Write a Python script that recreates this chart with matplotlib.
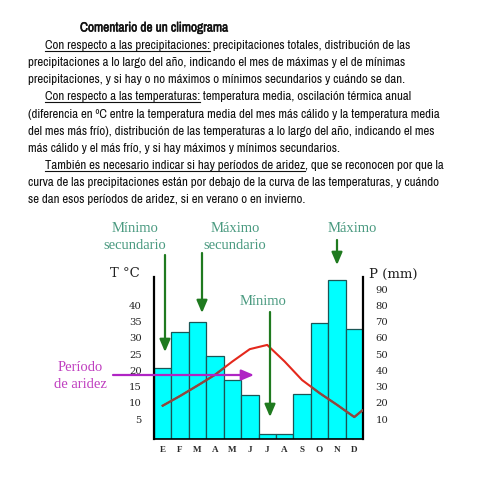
import matplotlib
matplotlib.use('Agg')
import matplotlib.pyplot as plt
from matplotlib import font_manager as fm
from matplotlib import patheffects as pe
from matplotlib.lines import Line2D
from matplotlib.patches import FancyArrowPatch
from matplotlib.path import Path
from matplotlib.transforms import offset_copy

# Datos del climograma
meses = ['E', 'F', 'M', 'A', 'M', 'J', 'J', 'A', 'S', 'O', 'N', 'D']
precipitacion = [41.3, 63.8, 69.9, 48.9, 34.1, 24.5, 0.8, 0.8, 25.4, 68.9, 95.5, 65.3]
temp_x = [0, 1, 2, 3, 4, 5, 6, 7, 8, 9, 10, 11, 11.45]
temperatura = [9.1, 12.1, 15.3, 18.6, 22.7, 26.5, 27.8, 22.7, 17.0, 13.0, 9.4, 5.6, 7.6]
ticks_t = [5, 10, 15, 20, 25, 30, 35, 40]
ticks_p = [10, 20, 30, 40, 50, 60, 70, 80, 90]

titulo = 'Comentario de un climograma'
lineas = [
    (45, [('Con respecto a las precipitaciones:', True),
          (' precipitaciones totales, distribución de las', False)]),
    (28, [('precipitaciones a lo largo del año, indicando el mes de máximas y el de mínimas', False)]),
    (28, [('precipitaciones, y si hay o no máximos o mínimos secundarios y cuándo se dan.', False)]),
    (45, [('Con respecto a las temperaturas:', True),
          (' temperatura media, oscilación térmica anual', False)]),
    (28, [('(diferencia en ºC entre la temperatura media del mes más cálido y la temperatura media', False)]),
    (28, [('del mes más frío), distribución de las temperaturas a lo largo del año, indicando el mes', False)]),
    (28, [('más cálido y el más frío, y si hay máximos y mínimos secundarios.', False)]),
    (45, [('También es necesario indicar si hay períodos de aridez', True),
          (', que se reconocen por que la', False)]),
    (28, [('curva de las precipitaciones están por debajo de la curva de las temperaturas, y cuándo', False)]),
    (28, [('se dan esos períodos de aridez, si en verano o en invierno.', False)]),
]

W = H = 480
fig = plt.figure(figsize=(4.8, 4.8), dpi=100)


def fx(x):
    return x / W


def fy(y):
    return 1 - y / H


fuentes = fm.fontManager.ttflist
nombres = {f.name for f in fuentes}
fam = 'Liberation Sans'
for f in ['Liberation Sans Narrow', 'Arial Narrow', 'Archivo Narrow', 'PT Sans Narrow',
          'Roboto Condensed', 'Open Sans Condensed']:
    if f in nombres:
        fam = f
        break
tiene_negrita = any(f.name == fam and f.weight in (600, 700, 800, 'bold') for f in fuentes)

r = fig.canvas.get_renderer()
# ajustar el tamaño para que la línea más larga ocupe el ancho del original
prueba = fig.text(0, 0, lineas[4][1][0][0], fontsize=10, family=fam)
ancho = prueba.get_window_extent(r).width
prueba.remove()
fs = 10 * 417 / ancho

if tiene_negrita:
    fig.text(fx(80), fy(31.5), titulo, fontsize=fs, family=fam, weight='bold',
             va='baseline', ha='left', color='#111111')
else:
    fig.text(fx(80), fy(31.5), titulo, fontsize=fs * 1.04, family=fam,
             va='baseline', ha='left', color='#111111',
             path_effects=[pe.withStroke(linewidth=0.35, foreground='#111111')])

for i, (x0, partes) in enumerate(lineas):
    yb = 49 + 17.15 * i
    x = x0
    for texto, sub in partes:
        t = fig.text(fx(x), fy(yb), texto, fontsize=fs, family=fam,
                     va='baseline', ha='left', color='#111111')
        bb = t.get_window_extent(r)
        if sub:
            fig.add_artist(Line2D([bb.x0 / W, bb.x1 / W], [fy(yb + 1.8)] * 2,
                                  color='#111111', lw=0.8))
        x = bb.x1

# Gráfico
ax = fig.add_axes([154 / W, 1 - 439 / H, (363 - 154) / W, (439 - 277) / H])
tx = ax.twinx()
base = 2.3
xs = list(range(len(meses)))
barras = ax.bar(xs, [p + base for p in precipitacion], bottom=-base, width=1.0,
                color='#00ffff', edgecolor='#1b5656', linewidth=0.9, zorder=2)
ax.set_xlim(-0.5, 11.5)
ax.set_ylim(-base, 97.4)
ax.set_xticks(xs)
ax.set_xticklabels(meses, family='Liberation Serif', weight='bold', fontsize=6.6,
                   color='#2a2a2a')
for lab in ax.get_xticklabels():
    lab.set_transform(offset_copy(lab.get_transform(), fig=fig, x=-2.5, units='dots'))
ax.yaxis.tick_right()
ax.set_yticks(ticks_p)
ax.tick_params(axis='y', length=0, pad=9, labelsize=7.2)
ax.tick_params(axis='x', length=0, pad=5)
for lab in ax.get_yticklabels():
    lab.set_family('DejaVu Serif')
    lab.set_color('#222222')
ax.spines['top'].set_visible(False)
for s in ['left', 'right']:
    ax.spines[s].set_linewidth(1.6)
ax.spines['bottom'].set_linewidth(1.2)

tx.set_ylim(-base / 2, 97.4 / 2)
tx.yaxis.tick_left()
tx.set_yticks(ticks_t)
tx.tick_params(axis='y', length=0, pad=8.6, labelsize=7.2)
for lab in tx.get_yticklabels():
    lab.set_family('DejaVu Serif')
    lab.set_color('#222222')
for s in tx.spines.values():
    s.set_visible(False)

tx.plot(temp_x, temperatura, color='#e4281c', lw=1.5, zorder=3)
marron, = tx.plot(temp_x, temperatura, color='#8a4a42', lw=1.5, zorder=4)
caminos = [b.get_patch_transform().transform_path(b.get_path()) for b in barras]
marron.set_clip_path(Path.make_compound_path(*caminos), ax.transData)

# Rótulos de ejes
fig.text(fx(110), fy(277), 'T °C', family='DejaVu Serif', fontsize=9.5,
         color='#222222', va='baseline', ha='left')
fig.text(fx(369), fy(278), 'P (mm)', family='DejaVu Serif', fontsize=9.5,
         color='#222222', va='baseline', ha='left')

# Anotaciones
verde_txt = '#4a9a80'
anot = [
    (135, 231.5, 'Mínimo'), (135, 249.3, 'secundario'),
    (235, 231.5, 'Máximo'), (235, 249.3, 'secundario'),
    (352, 231.5, 'Máximo'), (263, 305, 'Mínimo'),
]
for x, y, s in anot:
    fig.text(fx(x), fy(y), s, family='Liberation Serif', fontsize=10.5,
             color=verde_txt, va='baseline', ha='center')
for x, y, s in [(80, 371, 'Período'), (80, 388.3, 'de aridez')]:
    fig.text(fx(x), fy(y), s, family='Liberation Serif', fontsize=10.5,
             color='#c040c0', va='baseline', ha='center')

flechas = [
    ((165, 255), (165, 352), '#1f7a1f'),
    ((202, 253), (202, 313), '#1f7a1f'),
    ((337, 240), (337, 265), '#1f7a1f'),
    ((270, 312), (270, 417), '#1f7a1f'),
    ((113, 375), (254, 375), '#b024c4'),
]
for (x0, y0), (x1, y1), c in flechas:
    fig.add_artist(FancyArrowPatch((fx(x0), fy(y0)), (fx(x1), fy(y1)),
                                   transform=fig.transFigure,
                                   arrowstyle='-|>,head_length=0.75,head_width=0.32',
                                   mutation_scale=10, color=c, lw=1.6,
                                   shrinkA=0, shrinkB=0, zorder=10))

fig.savefig('out.png', dpi=100)
